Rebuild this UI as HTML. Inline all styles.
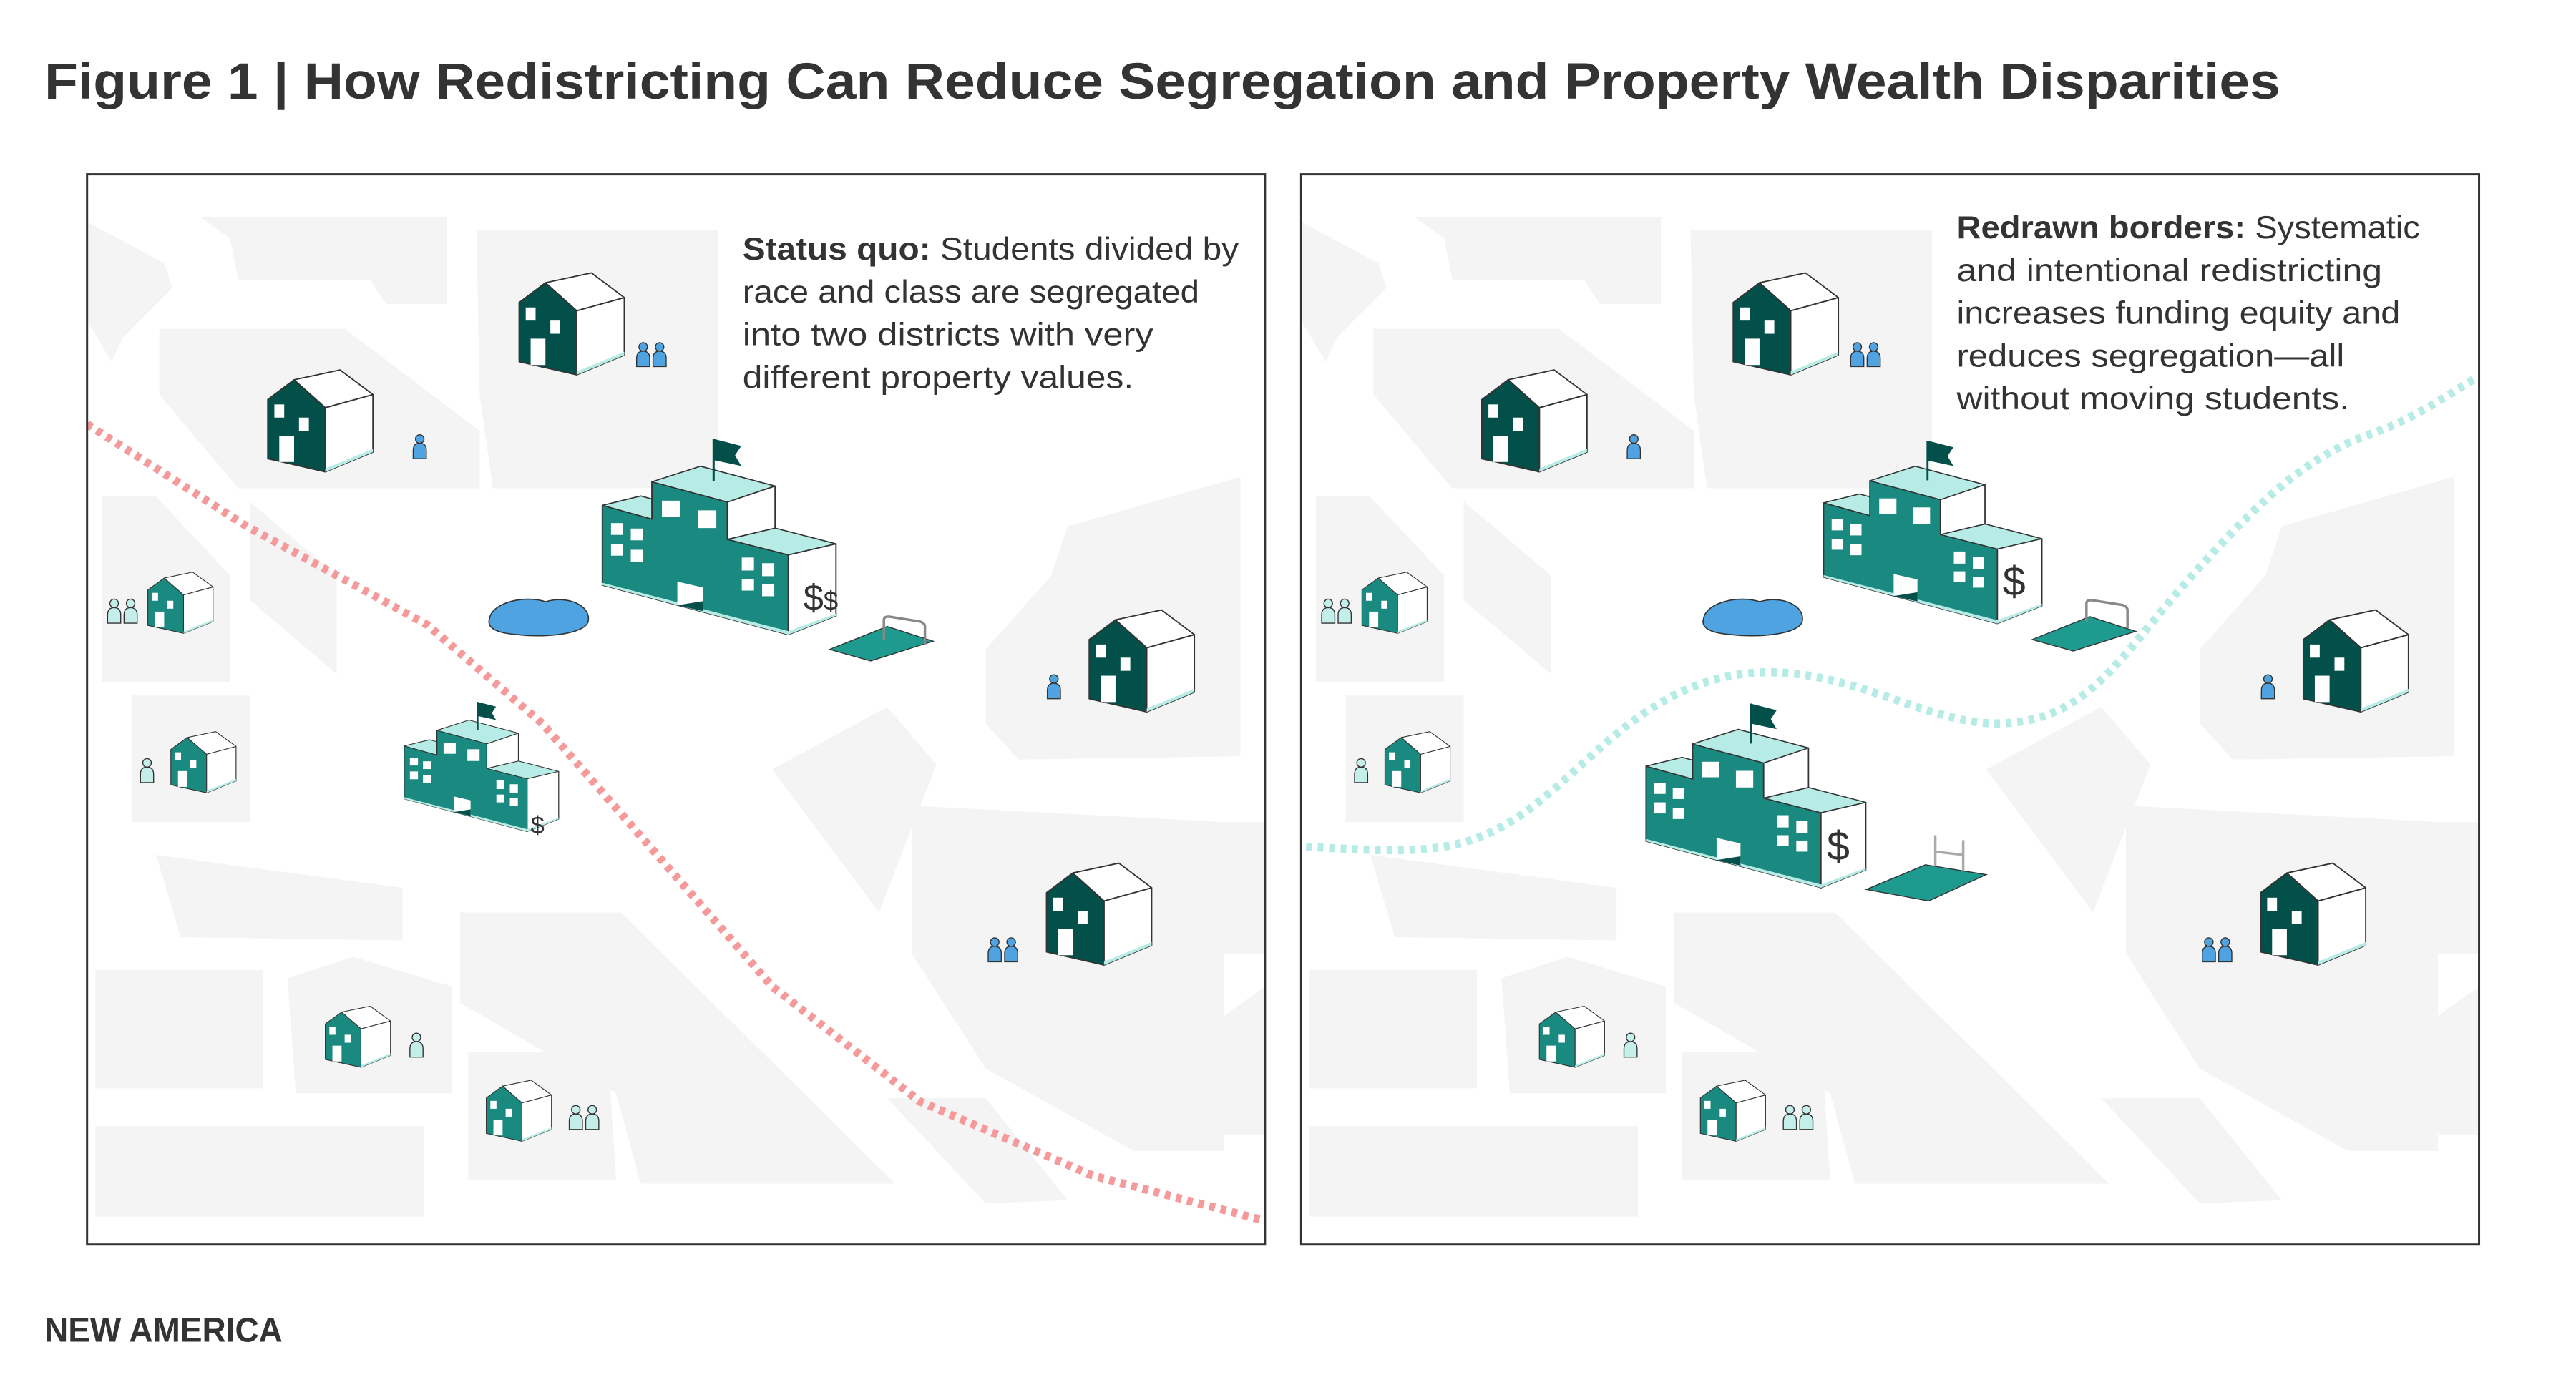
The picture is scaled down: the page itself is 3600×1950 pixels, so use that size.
<!DOCTYPE html>
<html><head><meta charset="utf-8"><style>
html,body{margin:0;padding:0;background:#fff;}
svg{display:block;}
text{font-family:"Liberation Sans",sans-serif;fill:#333;}
</style></head><body>
<svg width="3600" height="1950" viewBox="0 0 1568 848.5" preserveAspectRatio="none" xmlns="http://www.w3.org/2000/svg">
<defs>
<clipPath id="cl"><rect x="53" y="106" width="717" height="651"/></clipPath>
<clipPath id="cr"><rect x="792" y="106" width="717" height="651"/></clipPath>
<g id="map" fill="#f4f4f4">
<polygon points="53,135 100,160 105,175 75,205 68,220 53,195"/>
<polygon points="122,132 272,132 272,185 235,185 225,170 145,170 140,145"/>
<polygon points="290,140 437,140 437,290 432,297 300,297 292,240"/>
<polygon points="97,200 210,200 292,262 292,297 145,297 97,240"/>
<polygon points="62,302 95,302 140,350 140,415 62,415"/>
<polygon points="152,305 205,350 205,410 152,365"/>
<polygon points="80,423 152,423 152,500 80,500"/>
<polygon points="95,520 245,540 245,572 110,570"/>
<polygon points="58,590 160,590 160,662 58,662"/>
<polygon points="175,595 215,582 275,600 275,665 180,665"/>
<polygon points="280,555 378,555 545,720 390,720 375,665 280,610"/>
<polygon points="285,640 370,640 375,718 285,718"/>
<polygon points="58,685 258,685 258,740 58,740"/>
<polygon points="540,668 600,668 650,730 600,732"/>
<polygon points="470,468 540,430 570,465 535,555"/>
<polygon points="555,490 745,500 745,700 690,700 600,650 555,580"/>
<polygon points="600,395 640,350 650,320 755,290 755,460 620,462 600,440"/>
<polygon points="745,500 770,500 770,580 745,580"/>
<polygon points="742,620 770,600 770,690 745,690"/>
</g>
<g id="house" stroke="#333" stroke-width="0.8" stroke-linejoin="round">
<polygon points="35,23 64,15 64,50 35,62" fill="#fff"/>
<polygon points="16,6 44,0 64,15 35,23" fill="#fff"/>
<polygon points="0,18 16,6 35,23 35,62 0,54" fill="currentColor"/>
<rect x="4" y="21" width="6" height="8" fill="#fff" stroke="none"/>
<rect x="19" y="29" width="6" height="8" fill="#fff" stroke="none"/>
<rect x="7" y="40" width="9" height="16" fill="#fff" stroke="none"/>
<polygon points="35,60 64,48 64,50 35,62" fill="#b7ece6" stroke="none"/>
</g>
<g id="school" stroke="#333" stroke-width="5" stroke-linejoin="round">
<polygon points="135,492 318,550 318,392 597,478 597,636 822,702 822,1040 135,830" fill="#1a8a80"/>
<polygon points="135,492 277,452 318,465 318,550" fill="#b7ece6"/>
<polygon points="318,392 497,326 773,410 597,478" fill="#b7ece6"/>
<polygon points="597,636 773,588 998,655 822,702" fill="#b7ece6"/>
<polygon points="597,478 773,410 773,588 597,636" fill="#fff"/>
<polygon points="822,702 998,655 998,960 822,1040" fill="#fff"/>
<polygon points="135,820 822,1025 998,950 998,960 822,1040 135,830" fill="#b7ece6" stroke="none"/>
<g fill="#fff" stroke="none">
<rect x="167" y="567" width="45" height="50"/><rect x="240" y="590" width="45" height="50"/>
<rect x="167" y="655" width="45" height="50"/><rect x="240" y="680" width="45" height="50"/>
<rect x="355" y="472" width="68" height="70"/><rect x="488" y="513" width="68" height="75"/>
<rect x="650" y="713" width="45" height="55"/><rect x="725" y="737" width="45" height="55"/>
<rect x="650" y="803" width="45" height="50"/><rect x="725" y="827" width="45" height="50"/>
<polygon points="412,815 506,840 506,935 412,910"/>
</g>
<polygon points="412,915 506,898 506,940" fill="#034f4a" stroke="none"/>
<line x1="546" y1="210" x2="546" y2="390" stroke="#034f4a" stroke-width="8"/>
<polygon points="546,210 648,240 625,280 648,325 546,300" fill="#034f4a" stroke="none"/>
</g>
<g id="pb"><circle cx="4.5" cy="3" r="2.6"/><path d="M0.5,15 L0.5,10 Q0.5,5.6 4.5,5.6 Q8.5,5.6 8.5,10 L8.5,15 Z"/></g>
</defs>

<text x="27" y="60" font-size="31" font-weight="bold" textLength="1361" lengthAdjust="spacingAndGlyphs">Figure 1 | How Redistricting Can Reduce Segregation and Property Wealth Disparities</text>

<g clip-path="url(#cl)"><use href="#map"/></g>
<g clip-path="url(#cr)"><use href="#map" transform="translate(739,0)"/></g>

<polyline points="53,258 150,320 260,380 330,440 400,520 470,600 560,670 665,715 768,742" fill="none" stroke="#f59a9a" stroke-width="5" stroke-dasharray="3.5 3.5" clip-path="url(#cl)"/>
<path d="M795,515 C850,518 880,520 910,505 C960,480 990,420 1060,410 C1120,402 1170,440 1215,440 C1270,440 1290,400 1330,355 C1370,310 1400,280 1440,265 C1470,255 1490,240 1507,230" fill="none" stroke="#b7ece6" stroke-width="5" stroke-dasharray="3.5 3.5"/>

<g id="leftitems">
<g color="#034f4a">
<use href="#house" transform="translate(163,225)"/>
<use href="#house" transform="translate(316,166)"/>
<use href="#house" transform="translate(663,371)"/>
<use href="#house" transform="translate(637,525)"/>
</g>
<g color="#1a8a80">
<use href="#house" transform="translate(90,348) scale(0.62,0.6)"/>
<use href="#house" transform="translate(104,445) scale(0.62,0.6)"/>
<use href="#house" transform="translate(198,612) scale(0.62,0.6)"/>
<use href="#house" transform="translate(296,657) scale(0.62,0.6)"/>
</g>
<g fill="#4fa3e0" stroke="#333" stroke-width="0.6">
<use href="#pb" x="251" y="264"/>
<use href="#pb" x="387" y="208"/><use href="#pb" x="397" y="208"/>
<use href="#pb" x="637" y="410"/>
<use href="#pb" x="601" y="570"/><use href="#pb" x="611" y="570"/>
</g>
<g fill="#c4eee9" stroke="#333" stroke-width="0.6">
<use href="#pb" x="65" y="364"/><use href="#pb" x="75" y="364"/>
<use href="#pb" x="85" y="461"/>
<use href="#pb" x="249" y="628"/>
<use href="#pb" x="346" y="672"/><use href="#pb" x="356" y="672"/>
</g>
</g>
<use href="#leftitems" transform="translate(739,0)"/>

<path d="M298,376 C300,366 320,362 332,366 C345,362 360,368 358,378 C356,386 330,388 315,386 C302,385 296,382 298,376 Z" fill="#4fa3e0" stroke="#333" stroke-width="0.7"/>
<path d="M1037,376 C1039,366 1059,362 1071,366 C1084,362 1099,368 1097,378 C1095,386 1069,388 1054,386 C1041,385 1035,382 1037,376 Z" fill="#4fa3e0" stroke="#333" stroke-width="0.7"/>

<use href="#school" transform="translate(344.4,236.8) scale(0.1648,0.1435)"/>
<text x="489" y="371" font-size="22">$<tspan font-size="16">$</tspan></text>
<use href="#school" transform="translate(231.3,407) scale(0.109,0.095)"/>
<text x="323" y="507" font-size="15">$</text>
<use href="#school" transform="translate(1089.2,239.9) scale(0.154,0.134)"/>
<text x="1219" y="362" font-size="25">$</text>
<use href="#school" transform="translate(981,399.6) scale(0.155,0.135)"/>
<text x="1112" y="523" font-size="25">$</text>

<polygon points="505,395 540,381 568,390 530,402" fill="#1f9a8f" stroke="#333" stroke-width="0.6"/>
<path d="M538,389 L538,377 Q538,375 541,375 L560,378 Q563,379 563,381 L563,392" fill="none" stroke="#888" stroke-width="1.5"/>
<polygon points="1237,389 1272,375 1300,384 1262,396" fill="#1f9a8f" stroke="#333" stroke-width="0.6"/>
<path d="M1270,378 L1270,367 Q1270,365 1273,365 L1292,368 Q1295,369 1295,371 L1295,382" fill="none" stroke="#888" stroke-width="1.5"/>
<polygon points="1136,541 1172,526 1209,532 1174,548" fill="#1f9a8f" stroke="#333" stroke-width="0.6"/>
<path d="M1178,527 L1178,508 M1195,530 L1195,511 M1178,518 L1195,520" stroke="#aaa" stroke-width="1.5" fill="none"/>

<rect x="53" y="106" width="717" height="651" fill="none" stroke="#333" stroke-width="1.3"/>
<rect x="792" y="106" width="717" height="651" fill="none" stroke="#333" stroke-width="1.3"/>

<g font-size="19.5">
<text x="452" y="158" textLength="302" lengthAdjust="spacingAndGlyphs"><tspan font-weight="bold">Status quo:</tspan> Students divided by</text>
<text x="452" y="184" textLength="278" lengthAdjust="spacingAndGlyphs">race and class are segregated</text>
<text x="452" y="210" textLength="250" lengthAdjust="spacingAndGlyphs">into two districts with very</text>
<text x="452" y="236" textLength="238" lengthAdjust="spacingAndGlyphs">different property values.</text>
<text x="1191" y="145" textLength="282" lengthAdjust="spacingAndGlyphs"><tspan font-weight="bold">Redrawn borders:</tspan> Systematic</text>
<text x="1191" y="171" textLength="259" lengthAdjust="spacingAndGlyphs">and intentional redistricting</text>
<text x="1191" y="197" textLength="270" lengthAdjust="spacingAndGlyphs">increases funding equity and</text>
<text x="1191" y="223" textLength="236" lengthAdjust="spacingAndGlyphs">reduces segregation—all</text>
<text x="1191" y="249" textLength="239" lengthAdjust="spacingAndGlyphs">without moving students.</text>
</g>

<text x="27" y="816" font-size="21" font-weight="bold" textLength="145" lengthAdjust="spacingAndGlyphs">NEW AMERICA</text>
</svg>
</body></html>
